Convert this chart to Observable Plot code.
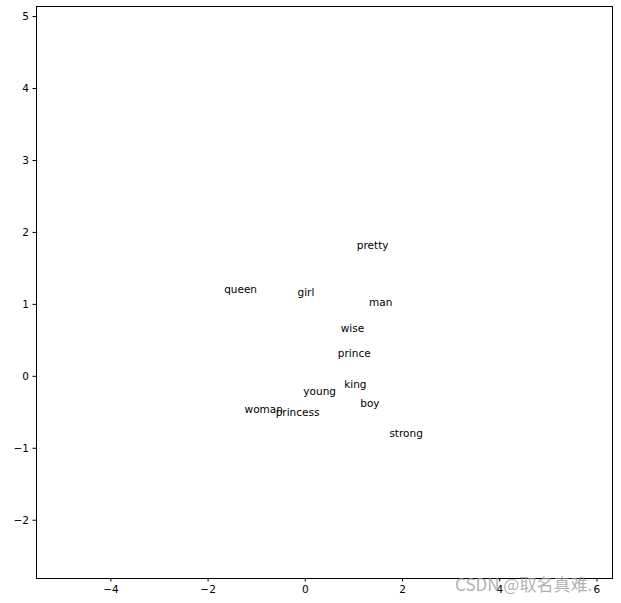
<!DOCTYPE html>
<html><head><meta charset="utf-8">
<script src="https://cdn.jsdelivr.net/npm/d3@7"></script>
<script src="https://cdn.jsdelivr.net/npm/@observablehq/plot@0.6"></script>
<style>
body{margin:0;background:#fff;font-family:"DejaVu Sans",sans-serif;}
#wrap{position:relative;width:621px;height:603px;}
#wm{position:absolute;left:455px;top:571px;font-family:"Noto Sans CJK SC","DejaVu Sans",sans-serif;font-size:17px;color:rgba(150,150,150,0.75);white-space:nowrap;}
</style></head>
<body><div id="wrap"><div id="wm">CSDN @取名真难.</div></div>
<script>
const words = ["pretty","queen","girl","man","wise","prince","king","young","boy","woman","princess","strong"];
const xs = [1.06,-1.67,-0.16,1.31,0.73,0.67,0.80,-0.04,1.13,-1.25,-0.61,1.73];
const ys = [1.77,1.17,1.12,0.98,0.62,0.27,-0.15,-0.25,-0.42,-0.50,-0.55,-0.83];
const xTicks = [-4,-2,0,2,4,6];
const yTicks = [-2,-1,0,1,2,3,4,5];
const xDomain = [-5.53,6.32];
const yDomain = [-2.81,5.14];
const data = words.map((w,i)=>({word:w,x:xs[i],y:ys[i]}));
const chart = Plot.plot({
  width:621, height:603,
  marginLeft:36, marginRight:9, marginTop:6, marginBottom:25,
  style:{fontFamily:"DejaVu Sans, sans-serif", fontSize:"10.5px", color:"#000", background:"#fff"},
  x:{domain:xDomain, ticks:xTicks, tickSize:3.5, tickPadding:4, label:null},
  y:{domain:yDomain, ticks:yTicks, tickSize:3.5, tickPadding:4, label:null},
  marks:[
    Plot.text(data,{x:"x",y:"y",text:"word",textAnchor:"start",lineAnchor:"bottom",dy:0.5,fontSize:10.5,fill:"#000"}),
    Plot.frame({stroke:"#000",strokeWidth:1})
  ]
});
document.getElementById("wrap").prepend(chart);
</script></body></html>
